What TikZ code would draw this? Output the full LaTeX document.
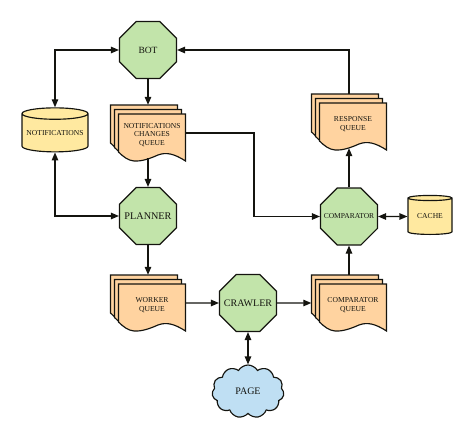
\documentclass[tikz,border=0pt]{standalone}
\usepackage{fontspec}
\setmainfont{Liberation Serif}
\usepackage{tikz}
\usetikzlibrary{shapes.geometric, shapes.symbols, arrows.meta, positioning, calc}
\definecolor{agentgreen}{RGB}{194, 228, 170}
\definecolor{queueorange}{RGB}{255, 211, 160}
\definecolor{storeyellow}{RGB}{255, 233, 160}
\definecolor{pageblue}{RGB}{191, 223, 243}
\definecolor{inkblack}{RGB}{20, 20, 15}
\newcommand{\agentname}[1]{\makebox[0pt]{#1}}
\newcommand{\queuestack}[4]{%
    \foreach \dx in {-4,0,4} {
        \draw[queuesheet, shift={(#2+\dx,#3+1.125*\dx)}] (-33.5,-23.5) -- (33.5,-23.5) -- (33.5,23.5)
            .. controls (22,16) and (14,14.5) .. (6,17.5)
            .. controls (-2,21) and (-10,24) .. (-18,23.5)
            .. controls (-24,23) and (-29,19) .. (-33.5,14.5) -- cycle;
    }
    \node[queuebox] (#1) at (#2,#3) {};
    \node[queuetext] (#1text) at ($(#1)+(4,2)$) {#4};
}
\tikzset{
    arrow/.style={-{Triangle[length=8pt,width=6.5pt]}, line width=1.15pt, inkblack},
    biarrow/.style={{Triangle[length=8pt,width=6.5pt]}-{Triangle[length=8pt,width=6.5pt]}, line width=1.15pt, inkblack},
    queuesheet/.style={draw=inkblack, fill=queueorange, line width=1.15pt, line join=miter},
    queuebox/.style={rectangle, minimum width=75pt, minimum height=56pt, inner sep=0pt},
    queuetext/.style={align=center, inkblack, font=\fontsize{7.6pt}{8.4pt}\selectfont}
}

\begin{document}
\begin{tikzpicture}[
    x=1pt, y=-1pt,
    agent/.style={regular polygon, regular polygon sides=8, draw=inkblack, fill=agentgreen, line width=1.15pt, minimum size=61.7pt, inner sep=0pt, text=inkblack},
    store/.style={cylinder, shape border rotate=90, aspect=0.2, draw=inkblack, fill=storeyellow, line width=1.15pt, inner sep=0pt, text=inkblack, font=\fontsize{7.6pt}{8pt}\selectfont}
]
    \useasboundingbox (0,0) rectangle (474,442);

    % Agents
    \node[agent, font=\fontsize{9.5pt}{11pt}\selectfont] (bot) at (148,50) {\agentname{BOT}};
    \node[agent, font=\fontsize{10.2pt}{12pt}\selectfont] (planner) at (148,216) {\agentname{PLANNER}};
    \node[agent, font=\fontsize{10pt}{12pt}\selectfont] (crawler) at (248,303) {\agentname{CRAWLER}};
    \node[agent, font=\fontsize{7.5pt}{9pt}\selectfont] (comparator) at (349,216.5) {\agentname{COMPARATOR}};

    % Stores
    \node[store, minimum width=66pt, minimum height=44pt] (notifications) at (55,133) {NOTIFICATIONS};
    \node[store, minimum width=44pt, minimum height=39pt] (cache) at (430,216.5) {CACHE};

    % Queues
    \queuestack{changesqueue}{148}{133}{NOTIFICATIONS\\CHANGES\\QUEUE}
    \queuestack{responsequeue}{349}{122}{RESPONSE\\QUEUE}
    \queuestack{workerqueue}{148}{303}{WORKER\\QUEUE}
    \queuestack{comparatorqueue}{349}{303}{COMPARATOR\\QUEUE}

    % Page
    \node[cloud, cloud puffs=11, cloud puff arc=120, aspect=1.35, draw=inkblack, fill=pageblue, line width=1.15pt, minimum width=72pt, minimum height=53pt, inner sep=0pt, text=inkblack, font=\fontsize{10pt}{12pt}\selectfont] (page) at (248,391.5) {PAGE};

    \coordinate (changesturn) at (254,175);

    % Connectors
    \draw[biarrow] (notifications.north) |- (bot.west);
    \draw[biarrow] (notifications.south) |- (planner.west);
    \draw[arrow] (bot.south) -- (changesqueue.north);
    \draw[arrow, shorten <=-3pt] (changesqueue.south) -- (planner.north);
    \draw[arrow] (planner.south) -- (workerqueue.north);
    \draw[arrow] (workerqueue.east) -- (crawler.west);
    \draw[arrow] (crawler.east) -- (comparatorqueue.west);
    \draw[biarrow] (crawler.south) -- (page.north);
    \draw[arrow] (comparatorqueue.north) -- (comparator.south);
    \draw[biarrow] (comparator.east) -- (cache.west);
    \draw[arrow, shorten >=-2pt] (comparator.north) -- (responsequeue.south);
    \draw[arrow] (responsequeue.north) |- (bot.east);
    \draw[arrow] (changesqueue.east) -| (changesturn) |- (comparator.west);

\end{tikzpicture}
\end{document}
